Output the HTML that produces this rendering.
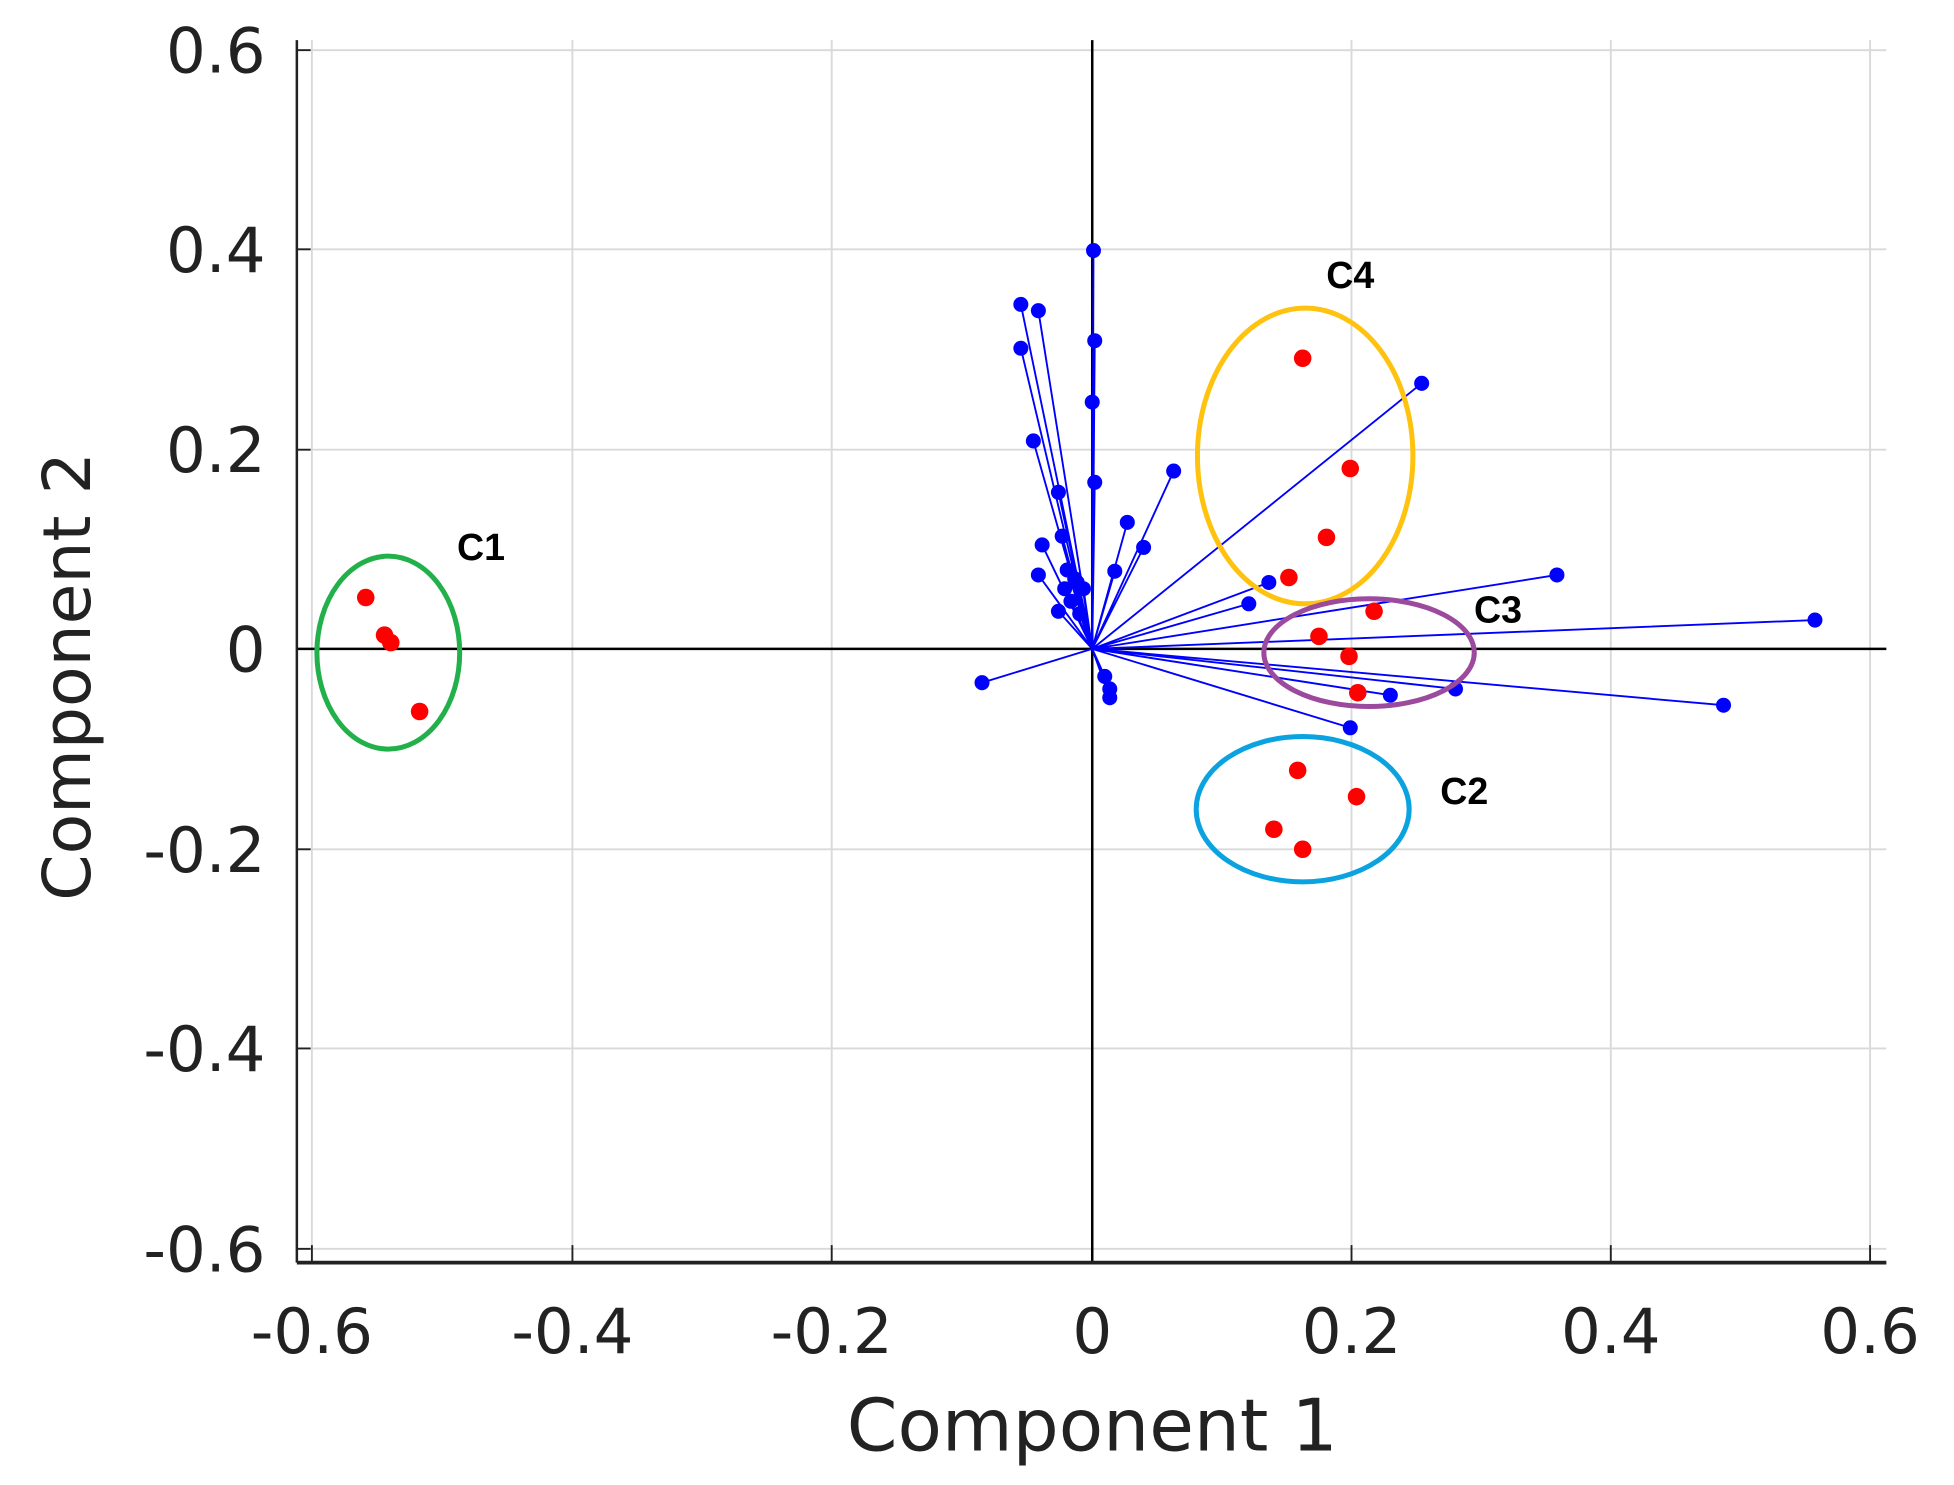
<!DOCTYPE html>
<html><head><style>html,body{margin:0;padding:0;background:#fff}svg{display:block}</style></head>
<body>
<svg width="1954" height="1485" viewBox="0 0 1560 1185.5" xmlns="http://www.w3.org/2000/svg">
<g stroke="#d9d9d9" stroke-width="1.5">
<line x1="249" y1="32" x2="249" y2="1008"/><line x1="457" y1="32" x2="457" y2="1008"/><line x1="664" y1="32" x2="664" y2="1008"/><line x1="1079" y1="32" x2="1079" y2="1008"/><line x1="1286" y1="32" x2="1286" y2="1008"/><line x1="1493" y1="32" x2="1493" y2="1008"/>
<line x1="237" y1="40" x2="1506" y2="40"/><line x1="237" y1="199" x2="1506" y2="199"/><line x1="237" y1="359" x2="1506" y2="359"/><line x1="237" y1="678" x2="1506" y2="678"/><line x1="237" y1="837" x2="1506" y2="837"/><line x1="237" y1="997" x2="1506" y2="997"/>
</g>
<g stroke="#000" stroke-width="2">
<line x1="872" y1="32" x2="872" y2="1008"/><line x1="237" y1="518" x2="1506" y2="518"/>
</g>
<g stroke="#222" stroke-width="1.5">
<line x1="237" y1="1008" x2="1506" y2="1008" stroke-width="3"/><line x1="237" y1="32" x2="237" y2="1008" stroke-width="2"/>
<line x1="249" y1="1008" x2="249" y2="994"/><line x1="457" y1="1008" x2="457" y2="994"/><line x1="664" y1="1008" x2="664" y2="994"/><line x1="1079" y1="1008" x2="1079" y2="994"/><line x1="1286" y1="1008" x2="1286" y2="994"/><line x1="1493" y1="1008" x2="1493" y2="994"/>
<line x1="237" y1="40" x2="248" y2="40"/><line x1="237" y1="199" x2="248" y2="199"/><line x1="237" y1="359" x2="248" y2="359"/><line x1="237" y1="678" x2="248" y2="678"/><line x1="237" y1="837" x2="248" y2="837"/><line x1="237" y1="997" x2="248" y2="997"/>
</g>
<g font-family="DejaVu Sans, sans-serif" font-size="50" fill="#222">
<g text-anchor="end"><text x="212" y="58">0.6</text><text x="212" y="217">0.4</text><text x="212" y="377">0.2</text><text x="212" y="536">0</text><text x="212" y="696">-0.2</text><text x="212" y="855">-0.4</text><text x="212" y="1015">-0.6</text></g>
<g text-anchor="middle"><text x="249" y="1080">-0.6</text><text x="457" y="1080">-0.4</text><text x="664" y="1080">-0.2</text><text x="872" y="1080">0</text><text x="1079" y="1080">0.2</text><text x="1286" y="1080">0.4</text><text x="1493" y="1080">0.6</text>
<text x="872" y="1158" font-size="58">Component 1</text>
<text transform="translate(72,540) rotate(-90)" font-size="53">Component 2</text></g>
</g>
<g stroke="#0000ff" stroke-width="1.5" fill="#0000ff">
<path d="M872 518L873 200M872 518L874 272M872 518L872 321M872 518L874 385M872 518L815 243M872 518L829 248M872 518L815 278M872 518L825 352M872 518L845 393M872 518L848 428M872 518L832 435M872 518L829 459M872 518L850 470M872 518L855 480M872 518L860 465M872 518L845 488M872 518L900 417M872 518L913 437M872 518L937 376M872 518L890 456M872 518L1135 306M872 518L1243 459M872 518L1449 495M872 518L997 482M872 518L1013 465M872 518L1162 550M872 518L1110 555M872 518L1376 563M872 518L1078 581M872 518L784 545M872 518L886 557M872 518L886 550M872 518L882 540M872 518L858 462M872 518L865 470M872 518L862 490M872 518L852 455"/>
<g stroke="none">
<circle cx="873" cy="200" r="6"/><circle cx="874" cy="272" r="6"/><circle cx="872" cy="321" r="6"/><circle cx="874" cy="385" r="6"/><circle cx="815" cy="243" r="6"/><circle cx="829" cy="248" r="6"/><circle cx="815" cy="278" r="6"/><circle cx="825" cy="352" r="6"/><circle cx="845" cy="393" r="6"/><circle cx="848" cy="428" r="6"/><circle cx="832" cy="435" r="6"/><circle cx="829" cy="459" r="6"/><circle cx="850" cy="470" r="6"/><circle cx="855" cy="480" r="6"/><circle cx="860" cy="465" r="6"/><circle cx="845" cy="488" r="6"/><circle cx="900" cy="417" r="6"/><circle cx="913" cy="437" r="6"/><circle cx="937" cy="376" r="6"/><circle cx="890" cy="456" r="6"/><circle cx="1135" cy="306" r="6"/><circle cx="1243" cy="459" r="6"/><circle cx="1449" cy="495" r="6"/><circle cx="997" cy="482" r="6"/><circle cx="1013" cy="465" r="6"/><circle cx="1162" cy="550" r="6"/><circle cx="1110" cy="555" r="6"/><circle cx="1376" cy="563" r="6"/><circle cx="1078" cy="581" r="6"/><circle cx="784" cy="545" r="6"/><circle cx="886" cy="557" r="6"/><circle cx="886" cy="550" r="6"/><circle cx="882" cy="540" r="6"/><circle cx="858" cy="462" r="6"/><circle cx="865" cy="470" r="6"/><circle cx="862" cy="490" r="6"/><circle cx="852" cy="455" r="6"/>
</g></g>
<g fill="none" stroke-width="4">
<ellipse cx="310" cy="521" rx="57" ry="77" stroke="#22b04a"/>
<ellipse cx="1042" cy="364" rx="86" ry="118" stroke="#ffc20e"/>
<ellipse cx="1093" cy="521" rx="84" ry="43" stroke="#9b4a9e"/>
<ellipse cx="1040" cy="646" rx="85" ry="58" stroke="#0aa3e0"/>
</g>
<g fill="#ff0000">
<circle cx="292" cy="477" r="7"/><circle cx="307" cy="507" r="7"/><circle cx="312" cy="513" r="7"/><circle cx="335" cy="568" r="7"/>
<circle cx="1040" cy="286" r="7"/><circle cx="1078" cy="374" r="7"/><circle cx="1059" cy="429" r="7"/><circle cx="1029" cy="461" r="7"/>
<circle cx="1097" cy="488" r="7"/><circle cx="1053" cy="508" r="7"/><circle cx="1077" cy="524" r="7"/><circle cx="1084" cy="553" r="7"/>
<circle cx="1036" cy="615" r="7"/><circle cx="1083" cy="636" r="7"/><circle cx="1017" cy="662" r="7"/><circle cx="1040" cy="678" r="7"/>
</g>
<g font-family="Liberation Sans, sans-serif" font-weight="bold" font-size="30" fill="#000" text-anchor="middle">
<text x="384" y="447">C1</text><text x="1078" y="230">C4</text><text x="1196" y="497">C3</text><text x="1169" y="642">C2</text>
</g>
</svg>
</body></html>
